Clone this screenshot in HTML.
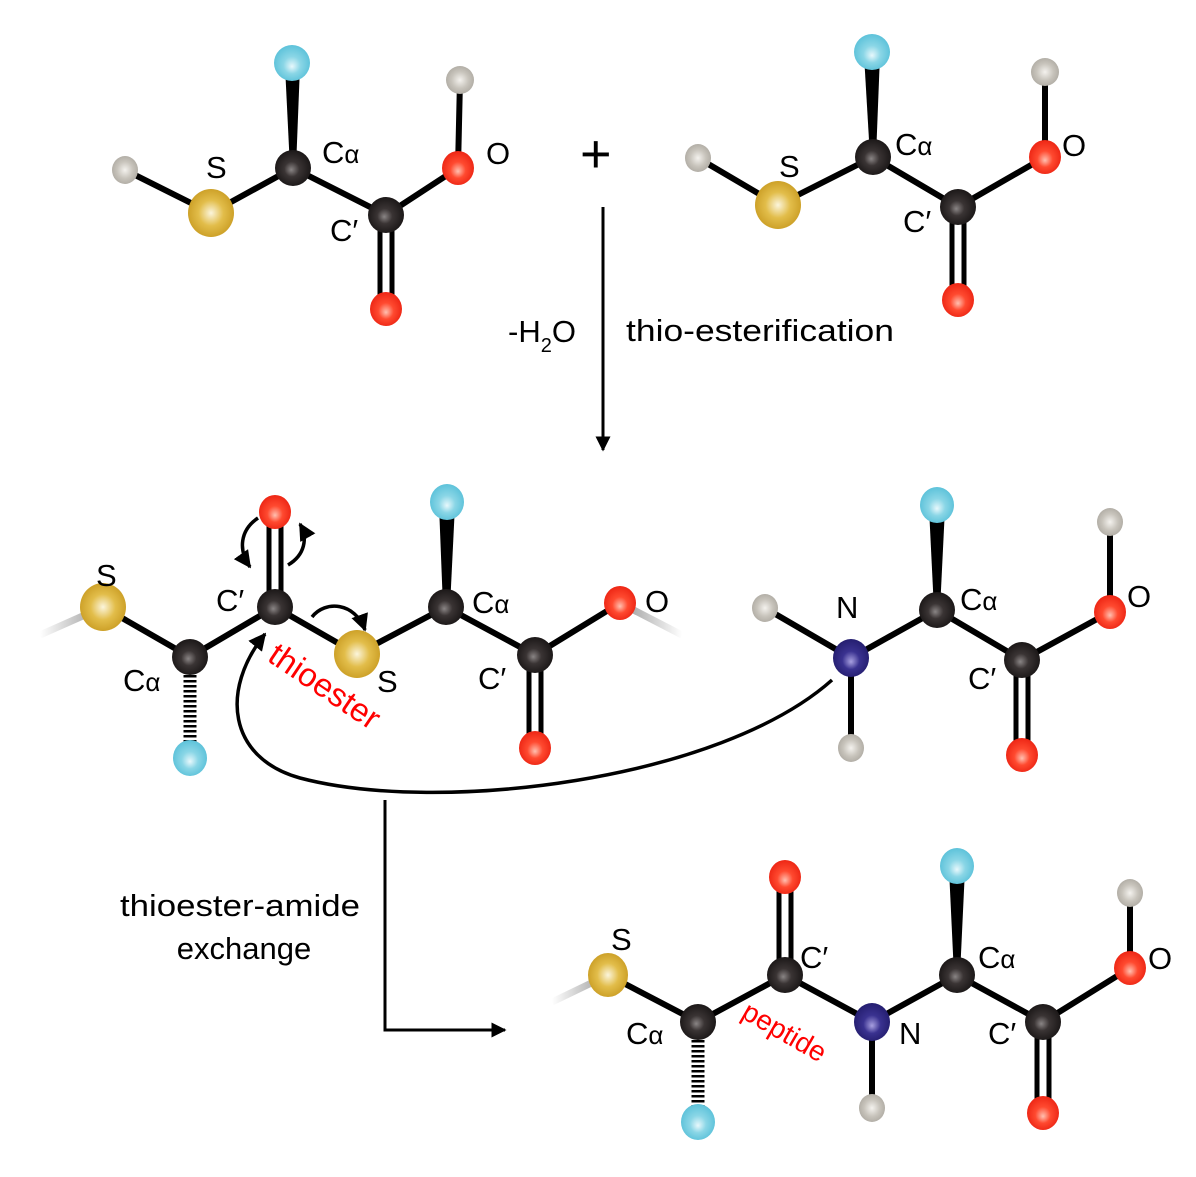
<!DOCTYPE html>
<html><head><meta charset="utf-8"><style>
html,body{margin:0;padding:0;background:#fff;}
svg{display:block;}
text{font-family:"Liberation Sans","DejaVu Sans",sans-serif;}
</style></head><body>
<svg width="1196" height="1177" viewBox="0 0 1196 1177" xmlns="http://www.w3.org/2000/svg">
<defs>
<radialGradient id="gk" cx="0.5" cy="0.5" r="0.6" fx="0.45" fy="0.55"><stop offset="0" stop-color="#8a8585"/><stop offset="0.35" stop-color="#3a3434"/><stop offset="1" stop-color="#120f0f"/></radialGradient>
<radialGradient id="gs" cx="0.5" cy="0.5" r="0.6" fx="0.5" fy="0.5"><stop offset="0" stop-color="#fbf5dc"/><stop offset="0.45" stop-color="#e2bd4a"/><stop offset="1" stop-color="#c4951a"/></radialGradient>
<radialGradient id="gr" cx="0.5" cy="0.5" r="0.6" fx="0.5" fy="0.6"><stop offset="0" stop-color="#ffc0b0"/><stop offset="0.4" stop-color="#ff4a30"/><stop offset="1" stop-color="#e81b0c"/></radialGradient>
<radialGradient id="gc" cx="0.5" cy="0.5" r="0.6" fx="0.5" fy="0.6"><stop offset="0" stop-color="#e8f8fc"/><stop offset="0.4" stop-color="#8ad6e6"/><stop offset="1" stop-color="#4fbcd6"/></radialGradient>
<radialGradient id="gg" cx="0.5" cy="0.5" r="0.6" fx="0.5" fy="0.5"><stop offset="0" stop-color="#f4f2ee"/><stop offset="0.5" stop-color="#c8c4bc"/><stop offset="1" stop-color="#a8a49c"/></radialGradient>
<radialGradient id="gn" cx="0.5" cy="0.5" r="0.6" fx="0.5" fy="0.6"><stop offset="0" stop-color="#a8a0e0"/><stop offset="0.4" stop-color="#3a3290"/><stop offset="1" stop-color="#1e1866"/></radialGradient>
<linearGradient id="stubL" x1="0" y1="0" x2="1" y2="0"><stop offset="0" stop-color="#fff"/><stop offset="1" stop-color="#999"/></linearGradient>
<linearGradient id="stubR" x1="0" y1="0" x2="1" y2="0"><stop offset="0" stop-color="#999"/><stop offset="1" stop-color="#fff"/></linearGradient>
<marker id="ah" viewBox="0 0 10 10" refX="9" refY="5" markerWidth="5" markerHeight="5" orient="auto"><path d="M0,0 L10,5 L0,10 Z" fill="#000"/></marker>
</defs>

<g stroke="#000" stroke-width="6" fill="none">
<path d="M125,170 L211,213 L293,168 L386,215 L458,168 L460,80"/>
<path d="M380,215 L380,309 M392,215 L392,309" stroke-width="5"/>
<path d="M698,158 L778,205 L873,157 L958,207 L1045,157 L1045,72"/>
<path d="M952,207 L952,300 M964,207 L964,300" stroke-width="5"/>
<path d="M103,607 L190,657 L275,607 L357,654 L446,607 L535,655 L620,603"/>
<path d="M269,607 L269,512 M281,607 L281,512" stroke-width="5"/>
<path d="M529,655 L529,748 M541,655 L541,748" stroke-width="5"/>
<path d="M765,608 L851,658 L937,610 L1022,660 L1110,612 L1110,522 M851,658 L851,748"/>
<path d="M1016,660 L1016,755 M1028,660 L1028,755" stroke-width="5"/>
<path d="M608,975 L698,1022 L785,975 L872,1022 L957,975 L1043,1022 L1130,968 L1130,893 M872,1022 L872,1108"/>
<path d="M779,975 L779,877 M791,975 L791,877" stroke-width="5"/>
<path d="M1037,1022 L1037,1113 M1049,1022 L1049,1113" stroke-width="5"/>
</g>
<path d="M40,635 L103,607" stroke="url(#stubL)" stroke-width="7"/>
<path d="M620,603 L682,635" stroke="url(#stubR)" stroke-width="7"/>
<path d="M552,1002 L608,975" stroke="url(#stubL)" stroke-width="7"/>
<polygon points="285,66 300,66 296,168 290,168" fill="#000"/>
<polygon points="864,55 880,55 876,157 870,157" fill="#000"/>
<polygon points="439,505 455,505 450,607 443,607" fill="#000"/>
<polygon points="929,508 945,508 940,610 934,610" fill="#000"/>
<polygon points="949,869 965,869 960,975 954,975" fill="#000"/>
<line x1="190" y1="670" x2="190" y2="745" stroke="#000" stroke-width="13" stroke-dasharray="2.5,2.5"/>
<line x1="698" y1="1035" x2="698" y2="1110" stroke="#000" stroke-width="13" stroke-dasharray="2.5,2.5"/>

<g>
<ellipse cx="125" cy="170" rx="13" ry="14" fill="url(#gg)"/>
<ellipse cx="211" cy="213" rx="23" ry="24" fill="url(#gs)"/>
<ellipse cx="293" cy="168" rx="18" ry="18" fill="url(#gk)"/>
<ellipse cx="292" cy="63" rx="18" ry="18" fill="url(#gc)"/>
<ellipse cx="386" cy="215" rx="18" ry="18" fill="url(#gk)"/>
<ellipse cx="386" cy="309" rx="16" ry="17" fill="url(#gr)"/>
<ellipse cx="458" cy="168" rx="16" ry="17" fill="url(#gr)"/>
<ellipse cx="460" cy="80" rx="14" ry="14" fill="url(#gg)"/>

<ellipse cx="698" cy="158" rx="13" ry="14" fill="url(#gg)"/>
<ellipse cx="778" cy="205" rx="23" ry="24" fill="url(#gs)"/>
<ellipse cx="873" cy="157" rx="18" ry="18" fill="url(#gk)"/>
<ellipse cx="872" cy="52" rx="18" ry="18" fill="url(#gc)"/>
<ellipse cx="958" cy="207" rx="18" ry="18" fill="url(#gk)"/>
<ellipse cx="958" cy="300" rx="16" ry="17" fill="url(#gr)"/>
<ellipse cx="1045" cy="157" rx="16" ry="17" fill="url(#gr)"/>
<ellipse cx="1045" cy="72" rx="14" ry="14" fill="url(#gg)"/>

<ellipse cx="103" cy="607" rx="23" ry="24" fill="url(#gs)"/>
<ellipse cx="190" cy="657" rx="18" ry="18" fill="url(#gk)"/>
<ellipse cx="190" cy="758" rx="17" ry="18" fill="url(#gc)"/>
<ellipse cx="275" cy="607" rx="18" ry="18" fill="url(#gk)"/>
<ellipse cx="275" cy="512" rx="16" ry="17" fill="url(#gr)"/>
<ellipse cx="357" cy="654" rx="23" ry="24" fill="url(#gs)"/>
<ellipse cx="446" cy="607" rx="18" ry="18" fill="url(#gk)"/>
<ellipse cx="447" cy="502" rx="17" ry="18" fill="url(#gc)"/>
<ellipse cx="535" cy="655" rx="18" ry="18" fill="url(#gk)"/>
<ellipse cx="535" cy="748" rx="16" ry="17" fill="url(#gr)"/>
<ellipse cx="620" cy="603" rx="16" ry="17" fill="url(#gr)"/>

<ellipse cx="765" cy="608" rx="13" ry="14" fill="url(#gg)"/>
<ellipse cx="851" cy="658" rx="18" ry="19" fill="url(#gn)"/>
<ellipse cx="851" cy="748" rx="13" ry="14" fill="url(#gg)"/>
<ellipse cx="937" cy="610" rx="18" ry="18" fill="url(#gk)"/>
<ellipse cx="937" cy="505" rx="17" ry="18" fill="url(#gc)"/>
<ellipse cx="1022" cy="660" rx="18" ry="18" fill="url(#gk)"/>
<ellipse cx="1022" cy="755" rx="16" ry="17" fill="url(#gr)"/>
<ellipse cx="1110" cy="612" rx="16" ry="17" fill="url(#gr)"/>
<ellipse cx="1110" cy="522" rx="13" ry="14" fill="url(#gg)"/>

<ellipse cx="608" cy="975" rx="20" ry="22" fill="url(#gs)"/>
<ellipse cx="698" cy="1022" rx="18" ry="18" fill="url(#gk)"/>
<ellipse cx="698" cy="1122" rx="17" ry="18" fill="url(#gc)"/>
<ellipse cx="785" cy="975" rx="18" ry="18" fill="url(#gk)"/>
<ellipse cx="785" cy="877" rx="16" ry="17" fill="url(#gr)"/>
<ellipse cx="872" cy="1022" rx="18" ry="19" fill="url(#gn)"/>
<ellipse cx="872" cy="1108" rx="13" ry="14" fill="url(#gg)"/>
<ellipse cx="957" cy="975" rx="18" ry="18" fill="url(#gk)"/>
<ellipse cx="957" cy="866" rx="17" ry="18" fill="url(#gc)"/>
<ellipse cx="1043" cy="1022" rx="18" ry="18" fill="url(#gk)"/>
<ellipse cx="1043" cy="1113" rx="16" ry="17" fill="url(#gr)"/>
<ellipse cx="1130" cy="968" rx="16" ry="17" fill="url(#gr)"/>
<ellipse cx="1130" cy="893" rx="13" ry="14" fill="url(#gg)"/>
</g>

<g stroke="#000" stroke-width="3" fill="none">
<path d="M603,207 L603,450" marker-end="url(#ah)"/>
<path d="M385,800 L385,1030 L505,1030" marker-end="url(#ah)"/>
<path d="M832,680 C720,780 440,815 300,778 C228,758 220,690 265,634" marker-end="url(#ah)" stroke-width="3.5"/>
<path d="M312,617 C325,600 355,602 365,630" marker-end="url(#ah)" stroke-width="3.5"/>
<path d="M258,518 C240,530 238,550 250,567" marker-end="url(#ah)" stroke-width="3.5"/>
<path d="M288,565 C305,555 308,538 300,524" marker-end="url(#ah)" stroke-width="3.5"/>
</g>

<g font-size="31" fill="#000">
<text x="206" y="178">S</text>
<text x="322" y="163">C<tspan font-size="26">α</tspan></text>
<text x="330" y="241">C′</text>
<text x="486" y="164">O</text>
<text x="580" y="172" font-size="54">+</text>
<text x="779" y="177">S</text>
<text x="895" y="155">C<tspan font-size="26">α</tspan></text>
<text x="903" y="232">C′</text>
<text x="1062" y="156">O</text>
<text x="508" y="342">-H<tspan font-size="20" dy="10">2</tspan><tspan dy="-10">O</tspan></text>
<text x="626" y="341" textLength="268" lengthAdjust="spacingAndGlyphs">thio-esterification</text>

<text x="96" y="586">S</text>
<text x="123" y="691">C<tspan font-size="26">α</tspan></text>
<text x="216" y="611">C′</text>
<text x="377" y="692">S</text>
<text x="472" y="613">C<tspan font-size="26">α</tspan></text>
<text x="478" y="689">C′</text>
<text x="645" y="612">O</text>
<text x="836" y="618">N</text>
<text x="960" y="610">C<tspan font-size="26">α</tspan></text>
<text x="968" y="689">C′</text>
<text x="1127" y="607">O</text>

<text x="120" y="916" textLength="240" lengthAdjust="spacingAndGlyphs">thioester-amide</text>
<text x="244" y="959" text-anchor="middle">exchange</text>

<text x="611" y="950">S</text>
<text x="626" y="1044">C<tspan font-size="26">α</tspan></text>
<text x="800" y="968">C′</text>
<text x="899" y="1044">N</text>
<text x="978" y="968">C<tspan font-size="26">α</tspan></text>
<text x="988" y="1044">C′</text>
<text x="1148" y="969">O</text>
</g>
<text x="0" y="0" font-size="33" fill="#ff0000" transform="translate(266,660) rotate(34)">thioester</text>
<text x="0" y="0" font-size="28" fill="#ff0000" transform="translate(740,1017) rotate(30)">peptide</text>
</svg>
</body></html>
